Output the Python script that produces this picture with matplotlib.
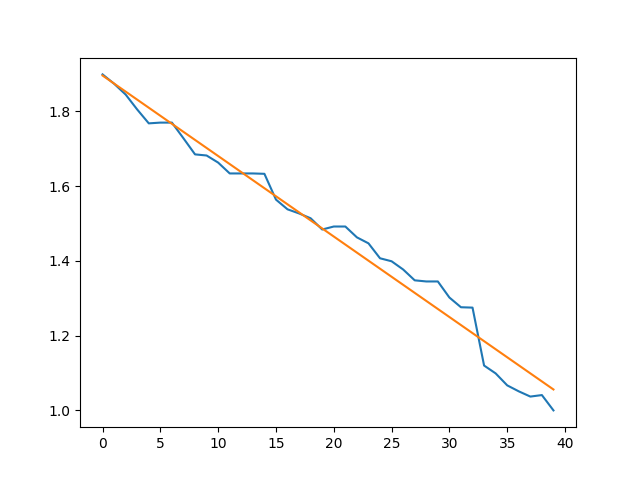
import matplotlib
matplotlib.use('Agg')
import matplotlib.pyplot as plt

# values
values = [1.899, 1.874, 1.845, 1.805, 1.768, 1.77, 1.77, 1.728, 1.685, 1.682,
          1.663, 1.634, 1.634, 1.634, 1.633, 1.564, 1.538, 1.527, 1.514, 1.484,
          1.492, 1.492, 1.463, 1.447, 1.407, 1.399, 1.377, 1.348, 1.345, 1.345,
          1.302, 1.276, 1.275, 1.12, 1.099, 1.067, 1.051, 1.037, 1.041, 1.0]
steps = list(range(len(values)))

# straight trend line, start and end
trend_x = [0, 39]
trend_y = [1.896, 1.056]

plt.figure(figsize=(6.4, 4.8), dpi=100)
plt.plot(steps, values)
plt.plot(trend_x, trend_y)
plt.savefig('out.png')
